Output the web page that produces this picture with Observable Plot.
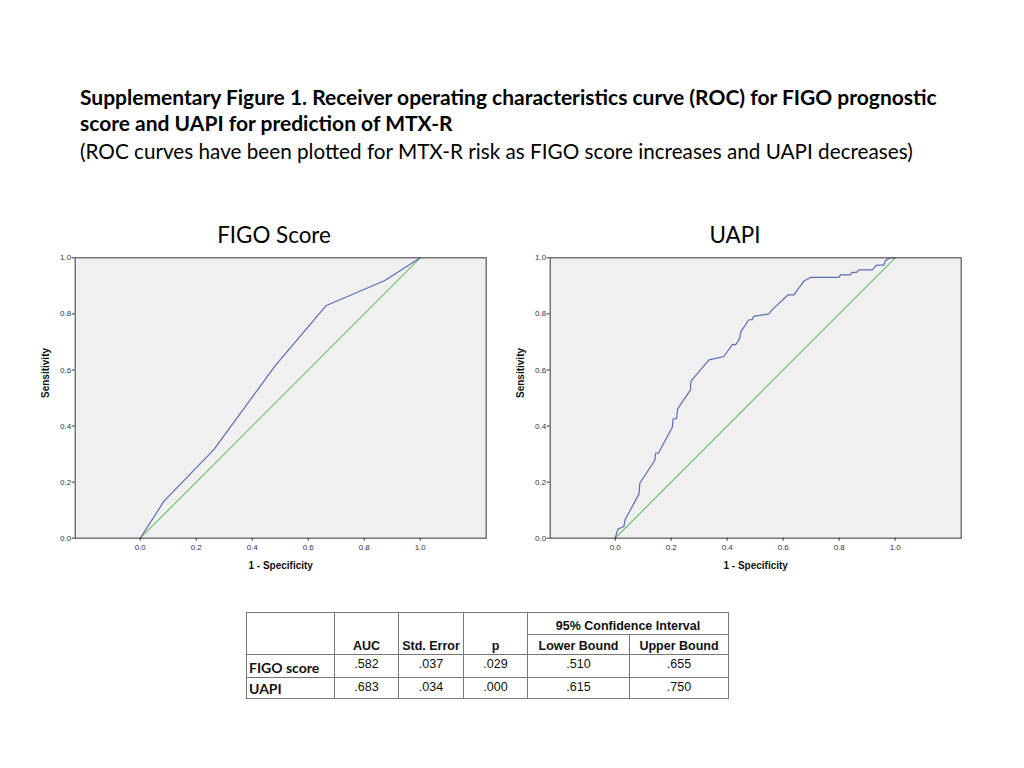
<!DOCTYPE html>
<html>
<head>
<meta charset="utf-8">
<script src="https://cdn.jsdelivr.net/npm/d3@7"></script>
<script src="https://cdn.jsdelivr.net/npm/@observablehq/plot@0.6"></script>
<style>
  html, body { margin: 0; padding: 0; background: #fff; }
  #page { position: relative; width: 1024px; height: 768px; overflow: hidden; background: #fff; }
  .ttl { position: absolute; left: 80px; font-family: Lato, "Open Sans", sans-serif; color: #000; white-space: nowrap; }
  .sub { position: absolute; font-family: Lato, "Open Sans", sans-serif; font-size: 22.4px; color: #000; transform: translateX(-50%); white-space: nowrap; }
  .panel { position: absolute; top: 250px; }
  table.res { position: absolute; left: 246px; top: 612px; border-collapse: collapse; font-family: "Liberation Sans", Arial, sans-serif; font-size: 12.5px; line-height: 13px; color: #111; table-layout: fixed; }
  table.res td { border: 1px solid #777; padding: 0; text-align: center; overflow: visible; white-space: nowrap; }
  table.res td.h { font-weight: bold; vertical-align: bottom; padding-bottom: 0; }
  table.res td.rl { font-family: Lato, sans-serif; font-weight: bold; font-size: 14px; line-height: 16px; text-align: left; vertical-align: bottom; padding-left: 2px; padding-bottom: 1px; }
  table.res td.v { vertical-align: top; padding-top: 3px; }
</style>
</head>
<body>
<div id="page">
  <div class="ttl" style="top:84px;font-weight:bold;font-size:21px;">Supplementary Figure 1. Receiver operating characteristics curve (ROC) for FIGO prognostic</div>
  <div class="ttl" style="top:110px;font-weight:bold;font-size:21px;">score and UAPI for prediction of MTX-R</div>
  <div class="ttl" style="top:139px;font-size:20.7px;">(ROC curves have been plotted for MTX-R risk as FIGO score increases and UAPI decreases)</div>
  <div class="sub" style="left:274px;top:221px;">FIGO Score</div>
  <div class="sub" style="left:735px;top:221px;">UAPI</div>
  <div class="panel" id="p1" style="left:30px;"></div>
  <div class="panel" id="p2" style="left:505px;"></div>
  <div id="tbl"></div>
</div>
<script>
// FIGO score ROC curve (1 - specificity, sensitivity)
const figoFpr  = [0, 0.085, 0.263, 0.483, 0.665, 0.874, 1];
const figoSens = [0, 0.132, 0.316, 0.616, 0.830, 0.919, 1];

// UAPI ROC curve (1 - specificity, sensitivity)
const uapiFpr  = [0, 0.010, 0.025, 0.031, 0.035, 0.085, 0.088, 0.142, 0.144, 0.154, 0.204, 0.207, 0.219, 0.223, 0.269, 0.270, 0.287, 0.335, 0.388, 0.418, 0.430, 0.444, 0.449, 0.477, 0.489, 0.495, 0.549, 0.561, 0.618, 0.638, 0.674, 0.698, 0.799, 0.805, 0.840, 0.846, 0.862, 0.870, 0.918, 0.932, 0.960, 0.965, 0.983, 1];
const uapiSens = [0, 0.033, 0.039, 0.042, 0.065, 0.158, 0.196, 0.279, 0.303, 0.303, 0.396, 0.426, 0.426, 0.461, 0.529, 0.559, 0.580, 0.636, 0.648, 0.690, 0.690, 0.711, 0.737, 0.779, 0.779, 0.791, 0.800, 0.815, 0.868, 0.868, 0.917, 0.930, 0.930, 0.939, 0.939, 0.948, 0.948, 0.957, 0.957, 0.973, 0.975, 0.990, 1.0, 1];

// Reference line
const refFpr  = [0, 1];
const refSens = [0, 1];

const axisTicks = [0, 0.2, 0.4, 0.6, 0.8, 1.0];

// Table
const tableRows   = ["FIGO score", "UAPI"];
const aucVals     = [".582", ".683"];
const seVals      = [".037", ".034"];
const pVals       = [".029", ".000"];
const lowerVals   = [".510", ".615"];
const upperVals   = [".655", ".750"];

const toPts = (xs, ys) => xs.map((x, i) => ({x, y: ys[i]}));

function rocPanel(xs, ys) {
  const fmt = d3.format(".1f");
  return Plot.plot({
    width: 470,
    height: 330,
    marginLeft: 44.7,
    marginRight: 14.3,
    marginTop: 7.3,
    marginBottom: 42.3,
    style: {fontFamily: "'Liberation Sans', Arial, sans-serif", fontSize: "8px", color: "#333", background: "transparent", overflow: "visible"},
    x: {domain: [-0.2321, 1.2357], label: null},
    y: {domain: [0, 1], label: null},
    marks: [
      Plot.frame({fill: "#f0f0f0", stroke: "none"}),
      Plot.line(toPts(refFpr, refSens), {x: "x", y: "y", stroke: "#6cc46c", strokeWidth: 1.2}),
      Plot.line(toPts(xs, ys), {x: "x", y: "y", stroke: "#5b6bb8", strokeWidth: 1.2}),
      Plot.frame({stroke: "#555", strokeWidth: 1.2}),
      Plot.axisX({ticks: axisTicks, tickFormat: fmt, tickSize: 3, tickPadding: 3, label: null, stroke: "#333"}),
      Plot.axisY({ticks: axisTicks, tickFormat: fmt, tickSize: 3, tickPadding: 1, label: null, stroke: "#333"}),
      Plot.text(["1 - Specificity"], {frameAnchor: "bottom", dy: 30.5, fontWeight: "bold", fontSize: 10, fill: "#111"}),
      Plot.text(["Sensitivity"], {frameAnchor: "left", dx: -29.5, rotate: -90, fontWeight: "bold", fontSize: 10, fill: "#111"})
    ]
  });
}

document.getElementById("p1").appendChild(rocPanel(figoFpr, figoSens));
document.getElementById("p2").appendChild(rocPanel(uapiFpr, uapiSens));

// build table
const colW = [88, 64, 65, 64, 102, 99];
let html = '<table class="res" style="width:' + d3.sum(colW) + 'px"><colgroup>' + colW.map(w => `<col style="width:${w}px">`).join("") + '</colgroup>';
html += '<tr style="height:22px"><td rowspan="2"></td><td class="h" rowspan="2" style="padding-bottom:1px">AUC</td><td class="h" rowspan="2" style="padding-bottom:1px">Std. Error</td><td class="h" rowspan="2" style="padding-bottom:1px">p</td><td class="h" colspan="2" style="vertical-align:bottom;padding-bottom:1px">95% Confidence Interval</td></tr>';
html += '<tr style="height:20px"><td class="h" style="padding-bottom:1px">Lower Bound</td><td class="h" style="padding-bottom:1px">Upper Bound</td></tr>';
tableRows.forEach((r, i) => {
  html += `<tr style="height:${i === 0 ? 23 : 21}px"><td class="rl">${r}</td><td class="v">${aucVals[i]}</td><td class="v">${seVals[i]}</td><td class="v">${pVals[i]}</td><td class="v">${lowerVals[i]}</td><td class="v">${upperVals[i]}</td></tr>`;
});
html += '</table>';
document.getElementById("tbl").innerHTML = html;
</script>
</body>
</html>
